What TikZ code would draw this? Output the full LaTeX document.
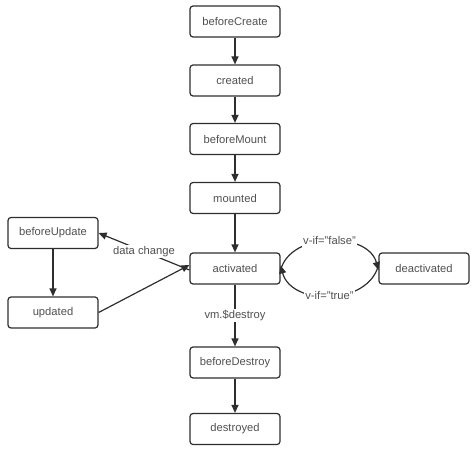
\documentclass[tikz,border=0pt]{standalone}
\usepackage{fontspec}
\setmainfont{Liberation Sans}
\usetikzlibrary{arrows.meta}
\definecolor{lineC}{HTML}{2E2E2E}
\definecolor{textC}{HTML}{505050}
\begin{document}
\begin{tikzpicture}[x=1pt,y=-1pt,
  box/.style={draw=lineC, line width=1.2pt, rounded corners=3pt, minimum width=90pt, minimum height=31pt, inner sep=0pt, font=\fontsize{11.2}{13}\selectfont, text=textC},
  conn/.style={draw=lineC, line width=1.2pt, -{Triangle[length=8pt,width=7pt]}},
  lbl/.style={fill=white, inner sep=1.5pt, font=\fontsize{11.2}{13}\selectfont, text=textC}]
\useasboundingbox (0,0) rectangle (474,452);
\node[box] (bc) at (235,21.5) {beforeCreate};
\node[box] (cr) at (235,80.5) {created};
\node[box] (bm) at (235,139) {beforeMount};
\node[box] (mo) at (235,198) {mounted};
\node[box] (ac) at (235,268.5) {activated};
\node[box] (bd) at (235,362.5) {beforeDestroy};
\node[box] (de) at (235,429) {destroyed};
\node[box] (bu) at (53,233) {beforeUpdate};
\node[box] (up) at (53,312.5) {updated};
\node[box] (da) at (424,268.5) {deactivated};

\draw[conn] (bc) -- (cr);
\draw[conn] (cr) -- (bm);
\draw[conn] (bm) -- (mo);
\draw[conn] (mo) -- (ac);
\draw[conn] (ac) -- node[lbl]{vm.\$destroy} (bd);
\draw[conn] (bd) -- (de);
\draw[conn] (bu) -- (up);
\draw[conn] ([yshift=-1.5pt]ac.west) -- node[lbl]{data change} (bu.east);
\draw[conn] (up.east) -- ([yshift=3.5pt]ac.west);
\draw[conn] ([yshift=-1.5pt]ac.east) to[out=75,in=105,looseness=1.05] node[lbl]{v-if="false"} ([yshift=-1.5pt]da.west);
\draw[conn] ([yshift=3pt]da.west) to[out=-105,in=-75,looseness=1.1] node[lbl]{v-if="true"} ([yshift=3pt]ac.east);
\end{tikzpicture}
\end{document}
